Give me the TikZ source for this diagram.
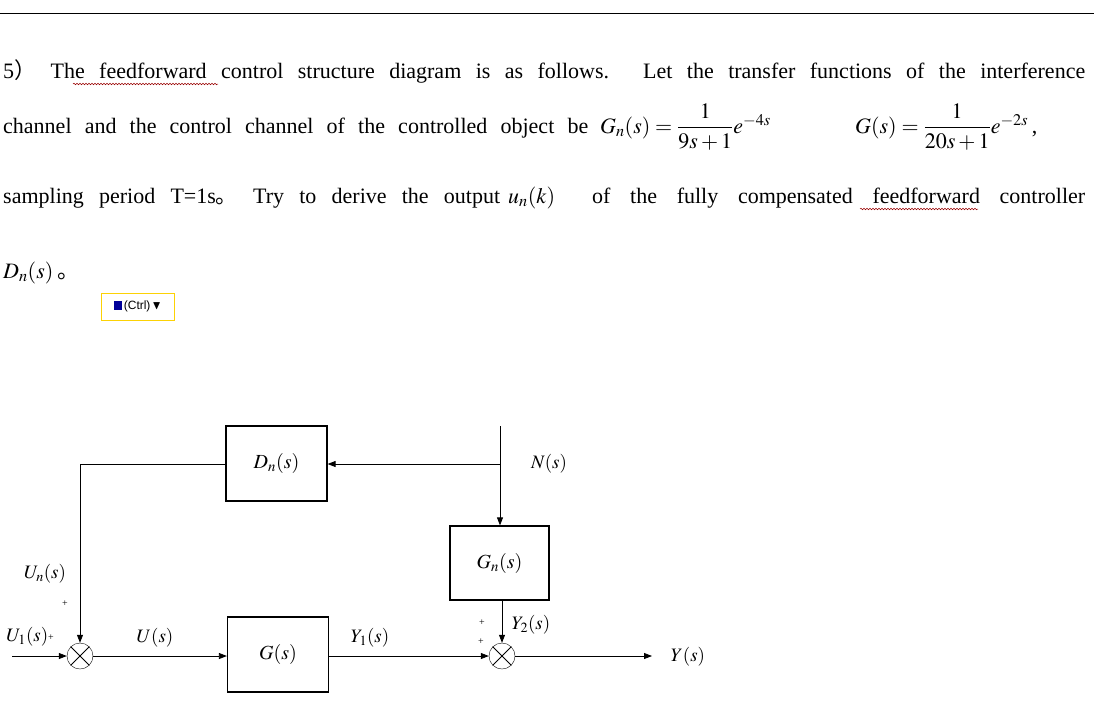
\documentclass[tikz,border=0pt]{standalone}
\usepackage{amsmath,amssymb}
\usepackage{mathptmx}
\usepackage{fontspec}
\setmainfont{Liberation Serif}
\newfontfamily\cjk{Noto Sans CJK SC}
\newfontfamily\uisans{Liberation Sans}
\usetikzlibrary{decorations.pathmorphing,arrows.meta}
\begin{document}
\begin{tikzpicture}[x=1pt,y=-1pt,
  txt/.style={anchor=base west,inner sep=0pt,font=\fontsize{22}{26}\selectfont},
  blk/.style={draw,line width=1.2pt,minimum width=101pt,minimum height=75pt,inner sep=0pt,font=\fontsize{20}{24}\selectfont},
  summ/.style={draw,circle,minimum size=26pt,inner sep=0pt},
  lab/.style={inner sep=0pt,font=\fontsize{19}{22}\selectfont},
  pl/.style={inner sep=0pt,font=\fontsize{10}{12}\selectfont},
  sig/.style={line width=0.8pt},
  arr/.style={sig,-{Triangle[length=8pt,width=6pt]}}]
\useasboundingbox (0,0) rectangle (1094,726);
\fill[white] (0,0) rectangle (1094,726);
\coordinate (tl) at (0,13); \coordinate (tr) at (1094,13);
\draw[line width=0.8pt] (tl) -- (tr);
% text
\node[txt] (l1) at (3,78) {\makebox[1082pt][s]{5{\cjk）} The feedforward control structure diagram is as follows. Let the transfer functions of the interference}};
\draw[decorate,decoration={snake,amplitude=0.8pt,segment length=3pt},line width=0.5pt,red!60!black] (73,84) -- (218,84);
\node[txt] (l2) at (3,133) {\makebox[585pt][s]{channel and the control channel of the controlled object be}};
\node[txt] (m1) at (600,133) {$G_n(s)=\dfrac{1}{9s+1}e^{-4s}$};
\node[txt] (m2) at (855,133) {$G(s)=\dfrac{1}{20s+1}e^{-2s}$\,,};
\node[txt] (l3) at (3,203) {\makebox[497pt][s]{sampling period T=1s{\cjk。} Try to derive the output}};
\node[txt] (m3) at (508,203) {$u_n(k)$};
\node[txt] (l3b) at (592,203) {\makebox[493pt][s]{of the fully compensated feedforward controller}};
\draw[decorate,decoration={snake,amplitude=0.8pt,segment length=3pt},line width=0.5pt,red!60!black] (860,209) -- (978,209);
\node[txt] (l4) at (3,278) {$D_n(s)$\,{\cjk。}};
\node[draw=yellow!70!orange,line width=1pt,minimum width=73pt,minimum height=27pt,inner sep=0pt,font=\uisans\fontsize{12}{14}\selectfont] (ctrl) at (137.5,306.5) {\textcolor{blue!60!black}{\rule{8pt}{9pt}}\,(Ctrl)\,$\blacktriangledown$};
% diagram
\node[blk] (dn) at (276.5,463.5) {$D_n(s)$};
\node[blk,minimum width=99pt,minimum height=74pt] (gn) at (499.5,563) {$G_n(s)$};
\node[blk] (g) at (278,654.5) {$G(s)$};
\node[summ] (s1) at (80,656) {}; 
\draw[sig] (s1.north east) -- (s1.south west) (s1.north west) -- (s1.south east);
\node[summ] (s2) at (502,656) {};
\draw[sig] (s2.north east) -- (s2.south west) (s2.north west) -- (s2.south east);
\coordinate (ntop) at (500,426);
\coordinate (nbr) at (500,464);
\coordinate (corner) at (80,464);
\coordinate (in) at (12,656);
\coordinate (out) at (652,656);
\draw[sig] (ntop) -- (nbr);
\draw[arr] (nbr) -- (gn.north -| nbr);
\draw[arr] (nbr) -- (dn.east |- nbr);
\draw[sig] (dn.west |- corner) -- (corner);
\draw[arr] (corner) -- (s1.north);
\draw[arr] (in) -- (s1.west);
\draw[arr] (s1.east) -- (g.west |- s1.east);
\draw[arr] (g.east |- s2.west) -- (s2.west);
\draw[arr] (gn.south -| s2.north) -- (s2.north);
\draw[arr] (s2.east) -- (out);
\node[lab] (ln) at (549,464) {$N(s)$};
\node[lab] (lun) at (45,574) {$U_n(s)$};
\node[pl] (p1) at (65,604) {+};
\node[lab] (lu1) at (30,637) {$U_1(s)$\raisebox{1pt}{\fontsize{10}{12}\selectfont+}};
\node[lab] (lu) at (155,638) {$U(s)$};
\node[lab] (ly1) at (370,638) {$Y_1(s)$};
\node[pl] (p2) at (482,623) {+};
\node[lab] (ly2) at (531,625) {$Y_2(s)$};
\node[pl] (p3) at (481,642) {+};
\node[lab] (ly) at (688,657) {$Y(s)$};
\end{tikzpicture}
\end{document}
